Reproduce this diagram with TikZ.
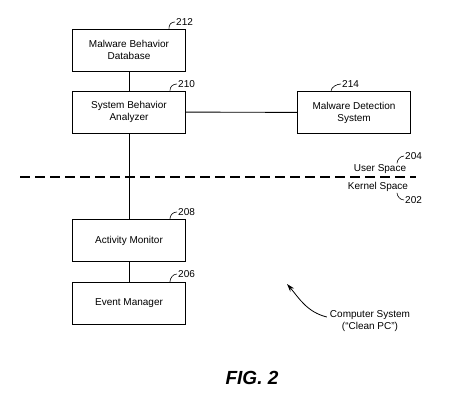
\documentclass[tikz,border=0pt]{standalone}
\usepackage{fontspec}
\setmainfont{Liberation Sans}
\usetikzlibrary{arrows.meta,calc}

\begin{document}
\begin{tikzpicture}[x=1pt,y=-1pt,
    blockbox/.style={draw, line width=0.9pt, minimum width=113pt, minimum height=42pt, align=center, font=\fontsize{10}{12}\selectfont, inner sep=2pt},
    reflabel/.style={font=\fontsize{10}{12}\selectfont, inner sep=1pt},
    link/.style={line width=0.9pt},
    curl/.style={line width=0.6pt}]
    \useasboundingbox (0,0) rectangle (474,403);
    % boxes
    \node[blockbox] (mbdb) at (129,50) {Malware Behavior\\Database};
    \node[blockbox] (sba) at (129,112) {System Behavior\\Analyzer};
    \node[blockbox] (mds) at (354,112.5) {Malware Detection\\System};
    \node[blockbox] (actmon) at (129,240.5) {Activity Monitor};
    \node[blockbox] (evtmgr) at (129,303.5) {Event Manager};
    % connectors
    \draw[link] (mbdb) -- (sba);
    \draw[link] (sba) -- (mds);
    \draw[link] (sba) -- (actmon);
    \draw[link] (actmon) -- (evtmgr);
    % user / kernel boundary
    \draw[line width=1.1pt, dash pattern=on 10pt off 5pt] (20,177) coordinate (bndleft) -- (416,177) coordinate (bndright);
    \node[reflabel] (userspace) at (380,169) {User Space};
    \node[reflabel] (kernelspace) at (378,187) {Kernel Space};
    % reference numerals
    \node[reflabel, anchor=west] (n212) at (175,22) {212};
    \node[reflabel, anchor=west] (n210) at (177,84) {210};
    \node[reflabel, anchor=west] (n214) at (341,84) {214};
    \node[reflabel, anchor=west] (n208) at (177,212) {208};
    \node[reflabel, anchor=west] (n206) at (177,274) {206};
    \node[reflabel, anchor=west] (n204) at (404,156) {204};
    \node[reflabel, anchor=west] (n202) at (404,200) {202};
    \draw[curl] (n212.west) .. controls +(-4,0) and +(0,-4) .. ($(mbdb.north east)+(-17,0)$);
    \draw[curl] (n210.west) .. controls +(-4,0) and +(0,-4) .. ($(sba.north east)+(-16,0)$);
    \draw[curl] (n214.west) .. controls +(-4,0) and +(0,-4) .. ($(mds.north west)+(34,0)$);
    \draw[curl] (n208.west) .. controls +(-4,0) and +(0,-4) .. ($(actmon.north east)+(-16,0)$);
    \draw[curl] (n206.west) .. controls +(-4,0) and +(0,-4) .. ($(evtmgr.north east)+(-16,0)$);
    \draw[curl] (n204.west) .. controls +(-4,0) and +(0,-3) .. ($(userspace.north)+(17,0)$);
    \draw[curl] (n202.west) .. controls +(-4,0) and +(0,3) .. ($(kernelspace.south)+(19,0)$);
    % computer system
    \node[reflabel, align=center] (compsys) at (370,321) {Computer System\\(``Clean PC'')};
    \coordinate (pcarrow) at (287,284);
    \draw[line width=0.8pt, -{Stealth[length=8pt,width=5pt]}] ($(compsys.west)+(-2,-4)$) .. controls +(-20,-5) and +(12,14) .. (pcarrow);
    % figure caption
    \node[font=\fontsize{19}{22}\selectfont\bfseries\itshape] (figcap) at (252,378) {FIG. 2};
\end{tikzpicture}
\end{document}
